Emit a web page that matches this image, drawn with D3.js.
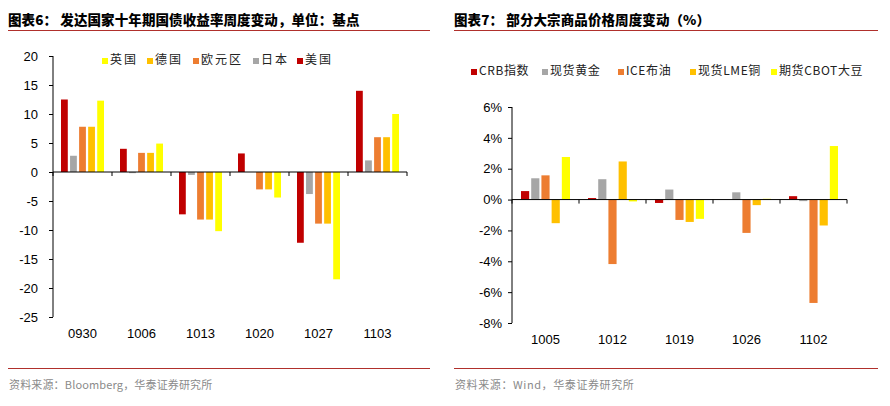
<!DOCTYPE html>
<html><head><meta charset="utf-8">
<script src="https://cdn.jsdelivr.net/npm/d3@7"></script>
<style>
body{margin:0;background:#fff;}
svg{display:block;}
.tick text{font-family:"Liberation Sans",Arial,sans-serif;font-size:13px;fill:#000;}
</style></head><body>
<svg id="c" width="890" height="406"></svg>
<script>
// ---- Left chart data ----
const leftCategories = ["0930","1006","1013","1020","1027","1103"];
const leftSeries = ["美国","日本","欧元区","德国","英国"];
const leftUS      = [12.5, 4.0, -7.3, 3.2, -12.2, 14.0];
const leftJapan   = [2.8, -0.2, -0.5, 0.0, -3.8, 2.0];
const leftEuro    = [7.8, 3.3, -8.2, -3.0, -8.9, 6.0];
const leftGermany = [7.8, 3.3, -8.2, -3.0, -8.9, 6.0];
const leftUK      = [12.3, 4.9, -10.2, -4.4, -18.5, 10.0];
const leftTicks   = [20,15,10,5,0,-5,-10,-15,-20,-25];
const leftLegend  = ["英国","德国","欧元区","日本","美国"];

// ---- Right chart data ----
const rightCategories = ["1005","1012","1019","1026","1102"];
const rightSeries = ["CRB指数","现货黄金","ICE布油","现货LME铜","期货CBOT大豆"];
const rightCRB   = [0.55, 0.1, -0.22, 0.0, 0.22];
const rightGold  = [1.38, 1.32, 0.65, 0.47, -0.1];
const rightBrent = [1.57, -4.18, -1.32, -2.16, -6.7];
const rightLME   = [-1.53, 2.47, -1.45, -0.36, -1.68];
const rightCBOT  = [2.76, -0.12, -1.25, 0.05, 3.47];
const rightTicks = [6,4,2,0,-2,-4,-6,-8];
const rightLegend = ["CRB指数","现货黄金","ICE布油","现货LME铜","期货CBOT大豆"];

const colors = {"美国":"#C00000","日本":"#A6A6A6","欧元区":"#ED7D31","德国":"#FFC000","英国":"#FFFF00",
  "CRB指数":"#C00000","现货黄金":"#A6A6A6","ICE布油":"#ED7D31","现货LME铜":"#FFC000","期货CBOT大豆":"#FFFF00"};

const svg = d3.select("#c");
const cjk = '"Noto Sans CJK SC","Noto Sans",sans-serif';

function header(x0, x1, title, source, srcLS){
  svg.append("text").attr("x", x0).attr("y", 25).text(title)
    .attr("font-family", cjk).attr("font-weight", 900).attr("font-size", 13.5)
    .attr("letter-spacing", 0.1).attr("fill", "#000");
  svg.append("line").attr("x1", x0).attr("x2", x1).attr("y1", 30.5).attr("y2", 30.5)
    .attr("stroke", "#B0302C").attr("stroke-width", 1);
  svg.append("line").attr("x1", x0).attr("x2", x1).attr("y1", 368.5).attr("y2", 368.5)
    .attr("stroke", "#B0302C").attr("stroke-width", 1);
  svg.append("text").attr("x", x0 + 1).attr("y", 389).text(source)
    .attr("font-family", cjk).attr("font-size", 11).attr("fill", "#8a8a8a").attr("letter-spacing", srcLS);
}

function chart(o){
  const g = svg.append("g");
  const x0 = d3.scaleBand().domain(o.categories).range([o.left, o.right]).paddingInner(0).paddingOuter(0);
  const bw = x0.bandwidth();
  const x1 = d3.scaleBand().domain(o.series).range([o.inset, bw - o.inset]).paddingInner(o.barPad);
  const y = d3.scaleLinear().domain([o.ticks[o.ticks.length-1], o.ticks[0]]).range([o.bottom, o.top]);

  const rows = o.categories.map((c, i) => ({cat: c, vals: o.series.map((s, k) => ({s, v: o.values[k][i]}))}));
  const grp = g.selectAll("g.grp").data(rows).join("g").attr("transform", d => `translate(${x0(d.cat)},0)`);
  grp.selectAll("rect").data(d => d.vals).join("rect")
    .attr("x", d => x1(d.s)).attr("width", x1.bandwidth())
    .attr("y", d => y(Math.max(0, d.v))).attr("height", d => Math.abs(y(d.v) - y(0)))
    .attr("fill", d => colors[d.s]);

  // y axis
  const ya = g.append("g").attr("transform", `translate(${o.left},0)`)
    .call(d3.axisLeft(y).tickValues(o.ticks).tickSize(4).tickPadding(o.tickPad).tickFormat(o.fmt));
  ya.selectAll("path,line").attr("stroke", "#000");
  ya.select(".domain").attr("d", `M0,${y(o.ticks[0])}V${y(o.ticks[o.ticks.length-1])}`);

  // x axis line at zero with boundary ticks
  const xa = g.append("g").attr("transform", `translate(0,${y(0)})`);
  xa.append("line").attr("x1", o.left).attr("x2", o.right).attr("stroke", "#000");
  const bounds = o.categories.map(c => x0(c)).concat([o.right]);
  xa.selectAll("line.tk").data(bounds).join("line").attr("class","tk")
    .attr("x1", d => d).attr("x2", d => d).attr("y1", 0).attr("y2", 4).attr("stroke", "#000");

  // category labels
  g.selectAll("text.cat").data(o.categories).join("text").attr("class","cat")
    .attr("x", d => x0(d) + bw/2).attr("y", o.labelY).attr("text-anchor","middle")
    .attr("font-family",'"Liberation Sans",Arial,sans-serif').attr("font-size",13).text(d => d);

  // legend
  const lg = g.selectAll("g.lg").data(o.legend).join("g").attr("class","lg")
    .attr("transform", (d,i) => `translate(${o.legendX[i]},${o.legendY})`);
  lg.append("rect").attr("x", 0).attr("y", -6).attr("width", 6).attr("height", 6).attr("fill", d => colors[d]);
  lg.append("text").attr("x", 8).attr("y", 0).text(d => d)
    .attr("font-family", cjk).attr("font-size", 12).attr("fill", "#222").attr("letter-spacing", o.legendLS);
}

header(8, 430, "图表6：  发达国家十年期国债收益率周度变动，单位：基点", "资料来源：Bloomberg，华泰证券研究所", 0.15);
header(454, 878, "图表7：  部分大宗商品价格周度变动（%）", "资料来源：Wind，华泰证券研究所", 0.6);

chart({categories: leftCategories, series: leftSeries,
  values: [leftUS, leftJapan, leftEuro, leftGermany, leftUK],
  ticks: leftTicks, left: 53, right: 407, top: 56, bottom: 317, inset: 8, barPad: 0.25,
  tickPad: 11, fmt: d => d, labelY: 338, legend: leftLegend,
  legendX: [102, 147, 193, 253, 297], legendY: 64, legendLS: 2});

chart({categories: rightCategories, series: rightSeries,
  values: [rightCRB, rightGold, rightBrent, rightLME, rightCBOT],
  ticks: rightTicks, left: 512, right: 847, top: 107, bottom: 323, inset: 9, barPad: 0.2,
  tickPad: 6, fmt: d => d + "%", labelY: 344, legend: rightLegend,
  legendX: [471, 542, 618, 690, 771], legendY: 75, legendLS: 0.6});
</script></body></html>
